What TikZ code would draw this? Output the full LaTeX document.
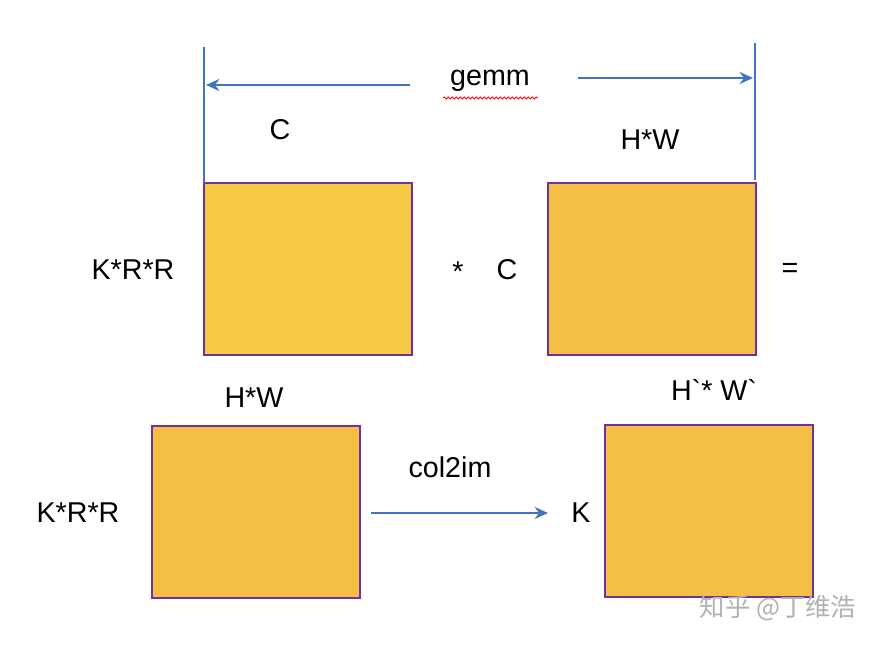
\documentclass[tikz,border=0pt]{standalone}
\usepackage{fontspec}
\setmainfont{Liberation Sans}
\newfontfamily\cjk{Noto Sans CJK SC}
\usetikzlibrary{arrows.meta,decorations.pathmorphing}
\definecolor{blu}{HTML}{4472C4}
\definecolor{ora}{HTML}{F5BF45}
\definecolor{ora1}{HTML}{F7CA45}
\definecolor{pur}{HTML}{7030A0}
\tikzset{mat/.style={draw=pur,line width=0.9pt,fill=ora},
lbl/.style={font=\fontsize{21.5}{25}\selectfont},
ln/.style={draw=blu,line width=1.6pt},
arr/.style={ln,-{Stealth[length=10pt,width=9pt]}}}
\begin{document}
\begin{tikzpicture}[x=0.75pt,y=-0.75pt]
\useasboundingbox (0,0) rectangle (882,646);
\fill[white] (0,0) rectangle (882,646);
\path[mat,fill=ora1] (204,183) rectangle (412,355);
\path[mat] (548,183) rectangle (756,355);
\path[mat] (152,426) rectangle (360,598);
\path[mat] (605,425) rectangle (813,597);
\coordinate (t1) at (204,47); \coordinate (u1) at (204,183);
\coordinate (t2) at (755,43); \coordinate (u2) at (755,180);
\draw[ln] (t1)--(u1); \draw[ln] (t2)--(u2);
\coordinate (a1) at (410,85); \coordinate (a2) at (206,85);
\coordinate (a3) at (578,78); \coordinate (a4) at (753,78);
\draw[arr] (a1)--(a2); \draw[arr] (a3)--(a4);
\node[lbl] (g) at (490,81) {gemm};
\draw[red,line width=0.6pt,decorate,decoration={snake,amplitude=0.8pt,segment length=3pt}] (443,98)--(538,98);
\node[lbl] (c1) at (280,130) {C};
\node[lbl] (hw1) at (650,140) {H*W};
\node[lbl] (k1) at (133,270) {K*R*R};
\node[lbl] (st) at (458,272) {*};
\node[lbl] (c2) at (507,270) {C};
\node[lbl] (eq) at (790,270) {=};
\node[lbl] (hw2) at (254,398) {H*W};
\node[lbl] (hw3) at (714,390) {H\textasciigrave* W\textasciigrave};
\node[lbl] (k2) at (78,513) {K*R*R};
\node[lbl] (ci) at (450,467) {col2im};
\node[lbl] (k3) at (581,513) {K};
\coordinate (c3) at (371,513); \coordinate (c4) at (548,513);
\draw[arr] (c3)--(c4);
\node[font=\cjk\fontsize{19}{21}\selectfont,text=gray!60] (wm) at (778,608) {知乎 @丁维浩};
\end{tikzpicture}
\end{document}
